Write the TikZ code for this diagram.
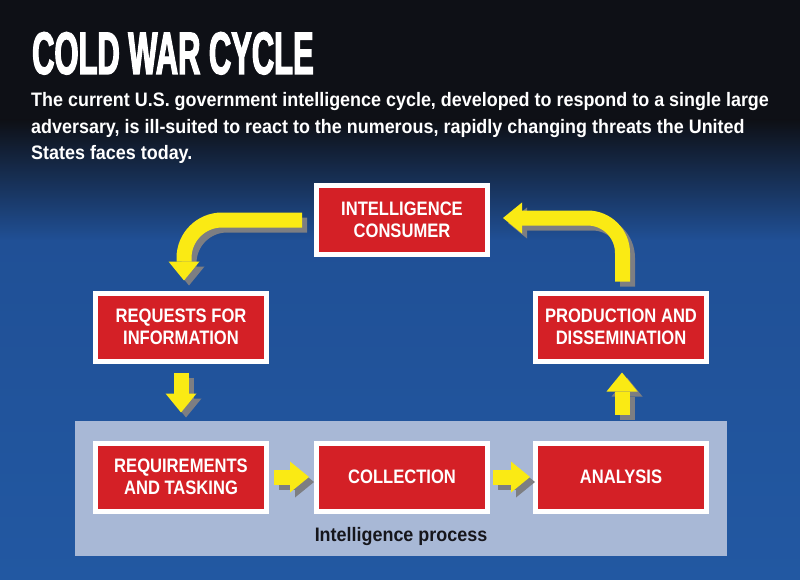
\documentclass[tikz,border=0pt]{standalone}
\usepackage{fontspec}
\setmainfont{Liberation Sans}
\newfontfamily\titlefont[FakeStretch=0.515,FakeBold=2]{Liberation Sans}
\newfontfamily\subfont[FakeStretch=0.92]{Liberation Sans}
\newfontfamily\boxfont[FakeStretch=0.85]{Liberation Sans}
\usetikzlibrary{arrows.meta,calc}
\definecolor{bgA}{RGB}{14,16,22}
\definecolor{bgC}{RGB}{24,44,82}
\definecolor{bgD}{RGB}{32,80,150}
\definecolor{bgE}{RGB}{34,88,162}
\definecolor{boxred}{RGB}{212,32,38}
\definecolor{arrowyellow}{RGB}{250,234,20}
\definecolor{shadowgray}{RGB}{125,126,130}
\definecolor{panelblue}{RGB}{168,184,214}
\definecolor{labelblack}{RGB}{22,22,28}
\tikzset{
  stagebox/.style={draw=white, line width=5pt, fill=boxred, text=white,
    minimum width=171pt, minimum height=68pt, inner sep=0pt, align=center,
    font=\boxfont\bfseries\fontsize{19.5}{22}\selectfont},
  subtext/.style={anchor=base west, inner sep=0pt, text=white,
    font=\subfont\bfseries\fontsize{19.5}{22}\selectfont},
  blocktip/.style={-{Triangle[width=31pt,length=19pt,line width=0pt]}},
  yarrow/.style={draw=arrowyellow, line width=15pt, blocktip},
  sarrow/.style={draw=shadowgray, line width=15pt, blocktip,
    transform canvas={xshift=5pt,yshift=-5pt}},
  panel/.style={fill=panelblue, draw=none, minimum width=652pt,
    minimum height=135pt, inner sep=0pt, outer sep=0pt}
}
\begin{document}
\begin{tikzpicture}[x=1pt,y=-1pt]
\useasboundingbox (0,0) rectangle (800,580);
% background
\fill[bgA] (0,0) rectangle (800,121);
\shade[top color=bgA, middle color=bgC, bottom color=bgD] (0,120) rectangle (800,241);
\shade[top color=bgD, bottom color=bgE] (0,240) rectangle (800,580);
% title and subtitle
\node[anchor=base west, inner sep=0pt, text=white,
  font=\titlefont\bfseries\fontsize{60}{60}\selectfont] (title) at (32,74) {COLD WAR CYCLE};
\node[subtext] (sub1) at (31,107) {The current U.S. government intelligence cycle, developed to respond to a single large};
\node[subtext] (sub2) at (31,133.5) {adversary, is ill-suited to react to the numerous, rapidly changing threats the United};
\node[subtext] (sub3) at (31,160) {States faces today.};
% panel
\node[panel] (proc) at (401,488.5) {};
\node[anchor=base, inner sep=0pt, text=labelblack,
  font=\subfont\bfseries\fontsize{19.5}{22}\selectfont] (proclabel) at (401,541) {Intelligence process};
% boxes
\node[stagebox] (cons) at (402,220) {INTELLIGENCE\\CONSUMER};
\node[stagebox] (req) at (181,327) {REQUESTS FOR\\INFORMATION};
\node[stagebox] (prod) at (621,327) {PRODUCTION AND\\DISSEMINATION};
\node[stagebox] (rt) at (181,477) {REQUIREMENTS\\AND TASKING};
\node[stagebox] (coll) at (402,477) {COLLECTION};
\node[stagebox] (anal) at (621,477) {ANALYSIS};
% arrows: shadows
\draw[sarrow, rounded corners=38pt] ($(cons.west)+(-12,0)$) -| ($(req.north)+(3,-10)$);
\draw[sarrow, rounded corners=35pt] ($(prod.north)+(1.5,-9)$) |- ($(cons.east)+(13,-2)$);
\draw[sarrow] ($(req.south)+(0,9)$) -- ($(rt.north)+(0,-28)$);
\draw[sarrow] ($(anal.north)+(1,-26)$) -- ($(prod.south)+(1,9)$);
\draw[sarrow] ($(rt.east)+(5,0)$) -- ($(coll.west)+(-5,0)$);
\draw[sarrow] ($(coll.east)+(3,0)$) -- ($(anal.west)+(-3,0)$);
% arrows: yellow
\draw[yarrow, rounded corners=38pt] ($(cons.west)+(-12,0)$) -| ($(req.north)+(3,-10)$);
\draw[yarrow, rounded corners=35pt] ($(prod.north)+(1.5,-9)$) |- ($(cons.east)+(13,-2)$);
\draw[yarrow] ($(req.south)+(0,9)$) -- ($(rt.north)+(0,-28)$);
\draw[yarrow] ($(anal.north)+(1,-26)$) -- ($(prod.south)+(1,9)$);
\draw[yarrow] ($(rt.east)+(5,0)$) -- ($(coll.west)+(-5,0)$);
\draw[yarrow] ($(coll.east)+(3,0)$) -- ($(anal.west)+(-3,0)$);
\end{tikzpicture}
\end{document}
